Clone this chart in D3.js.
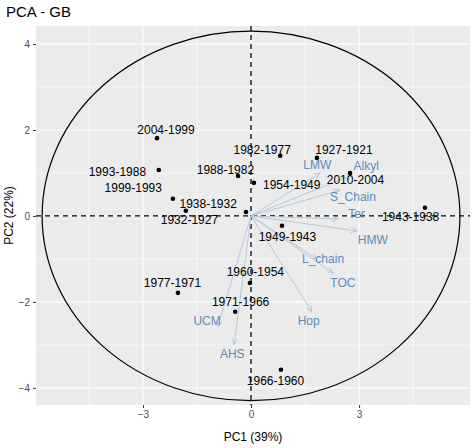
<!DOCTYPE html>
<html><head><meta charset="utf-8">
<script src="https://cdn.jsdelivr.net/npm/d3@7"></script>
<style>body{margin:0;background:#fff}text{font-family:"Liberation Sans",Arial,sans-serif}</style>
</head><body><svg id="c" width="474" height="448"></svg>
<script>
// sample scores
const periods = ["2004-1999","1993-1988","1999-1993","1932-1927","1938-1932","1988-1982","1954-1949","1982-1977","1927-1921","2010-2004","1943-1938","1949-1943","1960-1954","1977-1971","1971-1966","1966-1960"];
const pc1 = [-2.61,-2.56,-2.17,-1.81,-0.14,-0.36,0.08,0.81,1.83,2.75,4.83,0.86,-0.03,-2.03,-0.44,0.83];
const pc2 = [1.81,1.07,0.40,0.12,0.09,0.93,0.77,1.40,1.35,1.00,0.19,-0.23,-1.56,-1.79,-2.23,-3.58];
// label nudges (data units)
const nudgeX = [0.25,-1.15,-1.1,0.1,-1.05,-0.35,1.05,-0.5,0.75,0.15,-0.4,0.15,0.15,-0.15,0.15,-0.15];
const nudgeY = [0.2,-0.05,0.25,-0.2,0.2,0.15,-0.05,0.15,0.2,-0.15,-0.2,-0.25,0.25,0.23,0.23,-0.25];

// variable loadings
const vars = ["LMW","Alkyl","S_Chain","Ter","HMW","L_chain","TOC","Hop","UCM","AHS"];
const vx = [1.92,2.8,2.47,2.42,2.94,1.83,2.28,1.69,-0.92,-0.47];
const vy = [1.0,0.95,0.6,-0.07,-0.35,-1.0,-1.33,-2.23,-2.58,-3.0];
const labX = [1.84,3.2,2.83,2.93,3.38,2.0,2.55,1.6,-1.22,-0.52];
const labY = [1.18,1.16,0.45,0.05,-0.56,-1.0,-1.55,-2.44,-2.44,-3.2];

const xTicks = [-3,0,3];
const yTicks = [-4,-2,0,2,4];

const svg = d3.select("#c");
const m = {l:36, r:4, t:26, b:43};
const W = 474, H = 448;
const x = d3.scaleLinear().domain([-5.97,6.08]).range([m.l, W-m.r]);
const y = d3.scaleLinear().domain([-4.4,4.42]).range([H-m.b, m.t]);

svg.append("text").attr("x",6).attr("y",17).attr("font-size",15).text("PCA - GB");

const defs = svg.append("defs");
defs.append("clipPath").attr("id","clip").append("rect")
  .attr("x",m.l).attr("y",m.t).attr("width",W-m.r-m.l).attr("height",H-m.b-m.t);
defs.append("marker").attr("id","ar").attr("viewBox","0 0 10 10").attr("refX",9).attr("refY",5)
  .attr("markerWidth",7).attr("markerHeight",7).attr("orient","auto")
  .append("path").attr("d","M0,1L9,5L0,9").attr("fill","none").attr("stroke","#b8c8dc").attr("stroke-width",1.3);

svg.append("rect").attr("x",m.l).attr("y",m.t).attr("width",W-m.r-m.l).attr("height",H-m.b-m.t).attr("fill","#ebebeb");
const g = svg.append("g").attr("clip-path","url(#clip)");
[-4.5,-1.5,1.5,4.5].forEach(v=>g.append("line").attr("x1",x(v)).attr("x2",x(v)).attr("y1",m.t).attr("y2",H-m.b).attr("stroke","#fff").attr("stroke-width",0.5));
[-3,-1,1,3].forEach(v=>g.append("line").attr("y1",y(v)).attr("y2",y(v)).attr("x1",m.l).attr("x2",W-m.r).attr("stroke","#fff").attr("stroke-width",0.5));
xTicks.forEach(v=>g.append("line").attr("x1",x(v)).attr("x2",x(v)).attr("y1",m.t).attr("y2",H-m.b).attr("stroke","#fff").attr("stroke-width",1.1));
yTicks.forEach(v=>g.append("line").attr("y1",y(v)).attr("y2",y(v)).attr("x1",m.l).attr("x2",W-m.r).attr("stroke","#fff").attr("stroke-width",1.1));

// correlation circle
g.append("ellipse").attr("cx",x(0)).attr("cy",y(0)).attr("rx",x(5.8)-x(0)).attr("ry",y(0)-y(4.3))
  .attr("fill","none").attr("stroke","#000").attr("stroke-width",1.2);
g.append("line").attr("x1",x(0)).attr("x2",x(0)).attr("y1",m.t).attr("y2",H-m.b).attr("stroke","#000").attr("stroke-width",1.3).attr("stroke-dasharray","5,4");
g.append("line").attr("y1",y(0)).attr("y2",y(0)).attr("x1",m.l).attr("x2",W-m.r).attr("stroke","#000").attr("stroke-width",1.3).attr("stroke-dasharray","5,4");

vars.forEach((v,i)=>{
  g.append("line").attr("x1",x(0)).attr("y1",y(0)).attr("x2",x(vx[i])).attr("y2",y(vy[i]))
    .attr("stroke","#b8c8dc").attr("stroke-width",1).attr("marker-end","url(#ar)");
});
periods.forEach((p,i)=>{
  g.append("circle").attr("cx",x(pc1[i])).attr("cy",y(pc2[i])).attr("r",2.3).attr("fill","#000");
  g.append("text").attr("x",x(pc1[i]+nudgeX[i])).attr("y",y(pc2[i]+nudgeY[i])).attr("dy","0.35em")
    .attr("text-anchor","middle").attr("font-size",12).text(p);
});
vars.forEach((v,i)=>{
  g.append("text").attr("x",x(labX[i])).attr("y",y(labY[i])).attr("dy","0.35em")
    .attr("text-anchor","middle").attr("font-size",12).attr("fill","#5a8cc0").text(v);
});

const xa = svg.append("g").attr("transform",`translate(0,${H-m.b})`).call(d3.axisBottom(x).tickValues(xTicks).tickSize(3).tickSizeOuter(0));
const ya = svg.append("g").attr("transform",`translate(${m.l},0)`).call(d3.axisLeft(y).tickValues(yTicks).tickSize(3).tickSizeOuter(0));
[xa,ya].forEach(a=>{a.select(".domain").remove();a.selectAll("line").attr("stroke","#333");a.selectAll("text").attr("fill","#4d4d4d").attr("font-size",10);});
svg.append("text").attr("x",(m.l+W-m.r)/2).attr("y",H-7).attr("text-anchor","middle").attr("font-size",12).text("PC1 (39%)");
svg.append("text").attr("transform",`translate(13,${(m.t+H-m.b)/2}) rotate(-90)`).attr("text-anchor","middle").attr("font-size",12).text("PC2 (22%)");
</script></body></html>
